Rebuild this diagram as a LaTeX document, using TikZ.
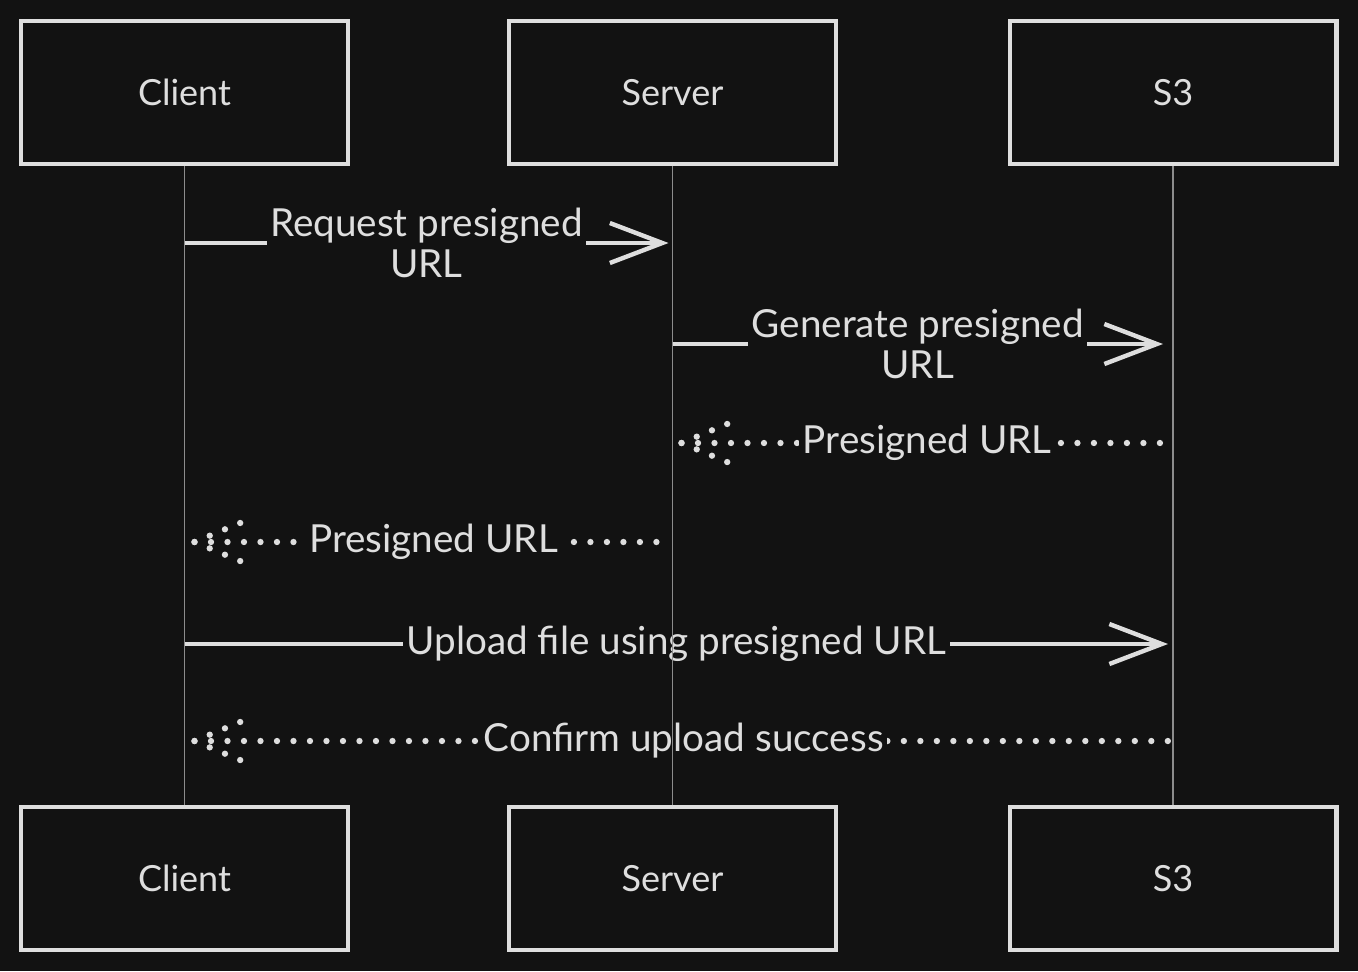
\documentclass[tikz,border=0pt]{standalone}
\usepackage{fontspec}
\setmainfont{Lato}
\usetikzlibrary{arrows.meta,positioning,calc}

\definecolor{bg}{HTML}{121212}
\definecolor{ink}{HTML}{DEDEDE}
\definecolor{life}{HTML}{8C8C8C}

\begin{document}
\begin{tikzpicture}[
  x=0.02cm, y=-0.02cm,
  font=\fontsize{20.5}{25}\selectfont,
  actor/.style={
    draw=ink,
    line width=2.3pt,
    fill=bg,
    text=ink,
    minimum width=6.54cm,
    minimum height=2.86cm
  },
  lifeline/.style={draw=life, line width=1.1pt},
  msg/.style={
    draw=ink,
    line width=2.5pt,
    -{Straight Barb[length=1.05cm,width=0.8cm]}
  },
  reply/.style={
    draw=ink,
    line width=3.6pt,
    line cap=round,
    dash pattern=on 0pt off 0.33cm
  },
  lbl/.style={fill=bg, text=ink, align=center, inner sep=2pt,
    font=\fontsize{22}{23}\selectfont}
]

% background and margins
\fill[bg] (0,0) rectangle (1358,971);

% --- participants (top row) ---
\node[actor] (client) at (184.5,92.5) {Client};
\node[actor] (server) at (672.5,92.5) {Server};
\node[actor] (sthree) at (1173,92.5) {S3};

% --- participants (bottom row) ---
\node[actor] (clientB) at (184.5,878.5) {Client};
\node[actor] (serverB) at (672.5,878.5) {Server};
\node[actor] (sthreeB) at (1173,878.5) {S3};

% --- calls (solid) ---
\draw[msg] (client |- 0,243) -- node[lbl] {Request presigned\\URL} ([xshift=-0.08cm]server |- 0,243);
\draw[msg] (server |- 0,344) -- node[lbl] {Generate presigned\\URL} ([xshift=-0.2cm]sthree |- 0,344);
\draw[msg] (client |- 0,644) -- node[lbl] {Upload file using presigned URL} ([xshift=-0.1cm]sthree |- 0,644);

% --- replies (dotted, with dotted heads) ---
\coordinate (t1) at ($(server |- 0,443)+(9,0)$);
\draw[reply] (t1) -- node[lbl] {Presigned URL} (sthree |- 0,443);
\draw[reply] (t1) -- ++(48,-20) (t1) -- ++(48,20);

\coordinate (t2) at ($(client |- 0,542)+(10,0)$);
\draw[reply] (t2) -- node[lbl] {Presigned URL} (server |- 0,542);
\draw[reply] (t2) -- ++(48,-20) (t2) -- ++(48,20);

\coordinate (t3) at ($(client |- 0,741)+(10,0)$);
\draw[reply] (t3) -- node[lbl] {Confirm upload success} (sthree |- 0,741);
\draw[reply] (t3) -- ++(48,-20) (t3) -- ++(48,20);

% --- lifelines on top ---
\draw[lifeline] (client) -- (clientB);
\draw[lifeline] (server) -- (serverB);
\draw[lifeline] (sthree) -- (sthreeB);

\end{tikzpicture}
\end{document}
